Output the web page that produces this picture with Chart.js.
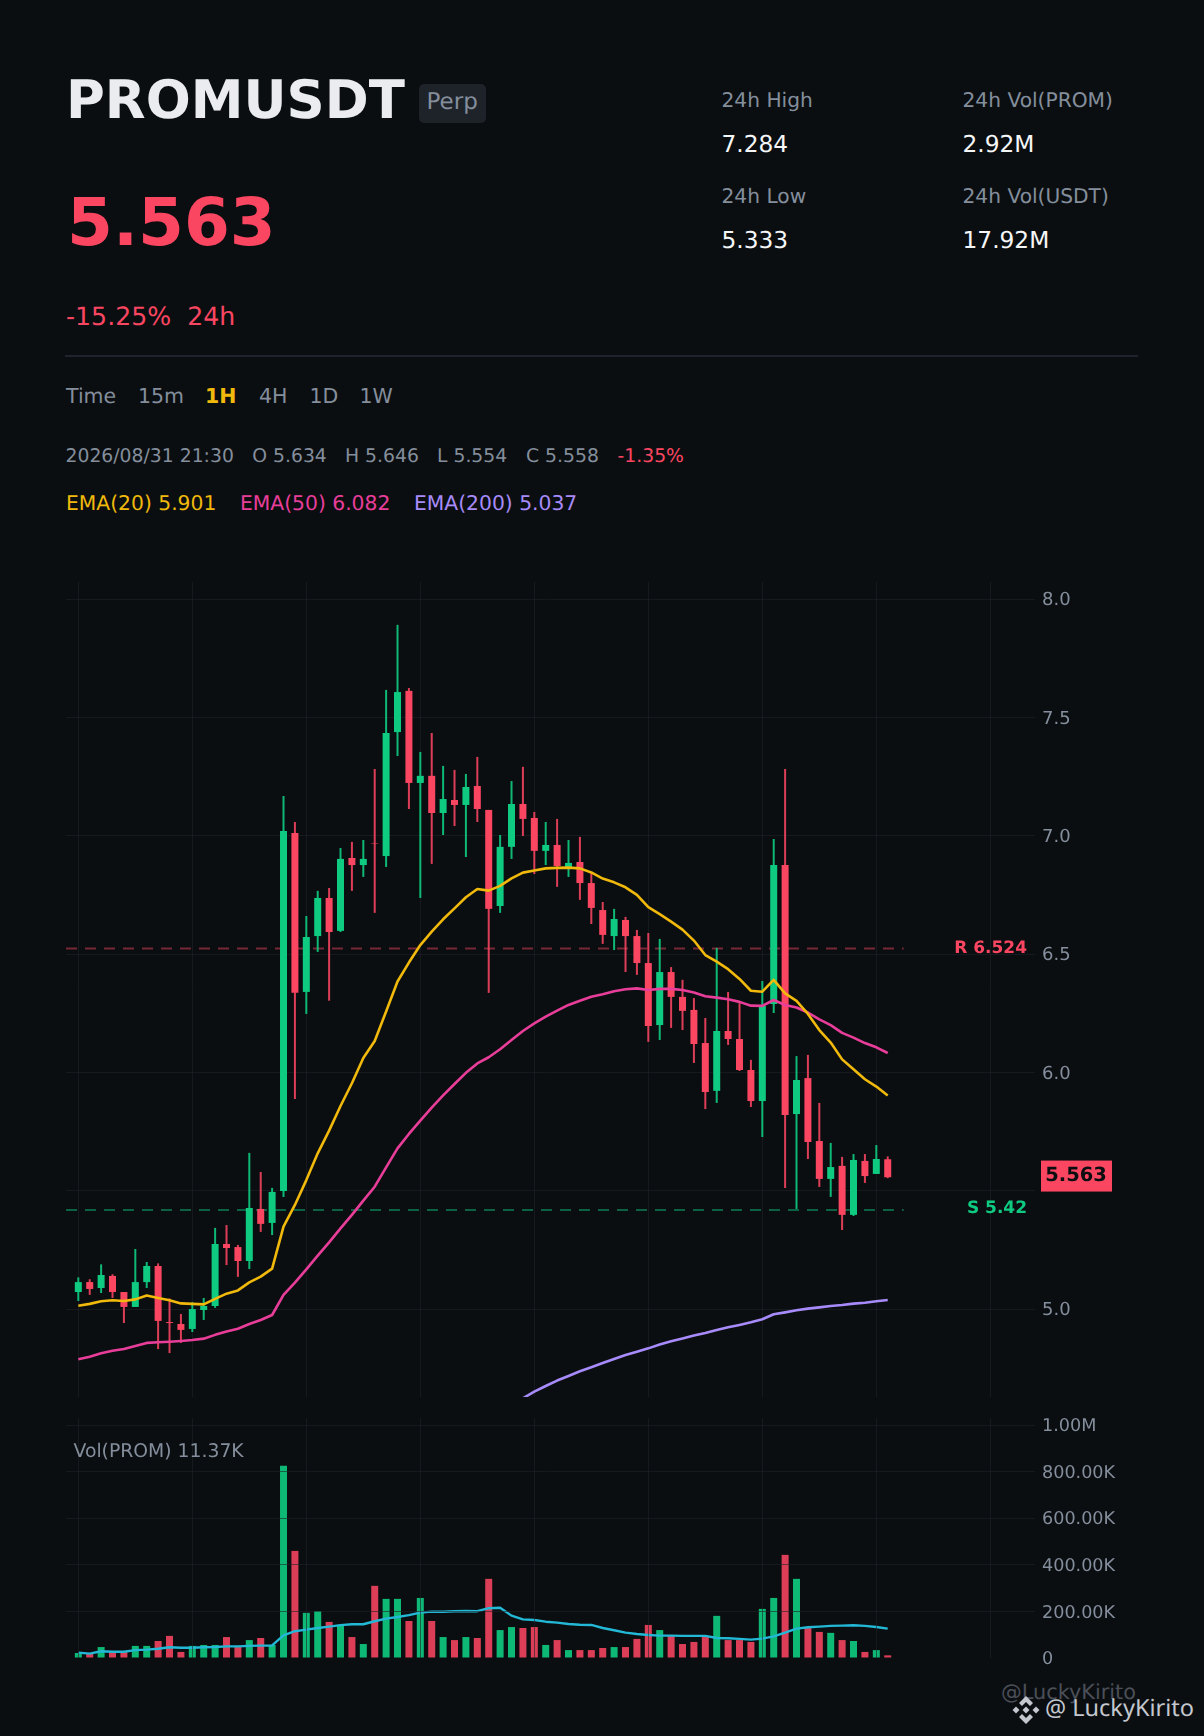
<!DOCTYPE html>
<html>
<head>
<meta charset="utf-8">
<title>PROMUSDT</title>
<script src="https://cdn.jsdelivr.net/npm/chart.js@4"></script>
<style>
  html, body { margin: 0; padding: 0; background: #0b0e11; }
  body { position: relative; width: 1204px; height: 1736px; overflow: hidden; font-family: "DejaVu Sans", sans-serif; text-rendering: geometricPrecision; }
  canvas { position: absolute; left: 0; }
  .t { position: absolute; line-height: 1; white-space: pre; color: #848e9c; }
  .lbl { font-size: 20.2px; }
  .val { font-size: 23.3px; color: #f5f6f7; }
  .ohlc { font-size: 18.8px; top: 447.6px; }
  .ema { font-size: 20.3px; top: 492.7px; }
  .tf { font-size: 20.5px; top: 385.8px; }
</style>
</head>
<body>

<canvas id="graficaPrecio" style="top:570px"></canvas>
<canvas id="graficaVolumen" style="top:1410px"></canvas>

<div class="t" style="left:66px;top:73.5px;font-size:53px;font-weight:bold;color:#eaecef">PROMUSDT</div>
<div style="position:absolute;left:419.3px;top:84.3px;width:66.4px;height:38.4px;background:#1e2329;border-radius:5px"></div>
<div class="t" style="left:426.5px;top:91px;font-size:23px">Perp</div>
<div class="t" style="left:67px;top:190.2px;font-size:66px;font-weight:bold;color:#fb4661">5.563</div>
<div class="t" style="left:66px;top:303.9px;font-size:25.2px;color:#fb4661">-15.25%  24h</div>

<div class="t lbl" style="left:721.5px;top:90px">24h High</div>
<div class="t val" style="left:721.5px;top:133.4px">7.284</div>
<div class="t lbl" style="left:721.5px;top:185.6px">24h Low</div>
<div class="t val" style="left:721.5px;top:229px">5.333</div>
<div class="t lbl" style="left:962.5px;top:90px">24h Vol(PROM)</div>
<div class="t val" style="left:962.5px;top:133.4px">2.92M</div>
<div class="t lbl" style="left:962.5px;top:185.6px">24h Vol(USDT)</div>
<div class="t val" style="left:962.5px;top:229px">17.92M</div>

<div style="position:absolute;left:65px;top:355px;width:1073px;height:2px;background:#1e232d"></div>

<div class="t tf" style="left:66px">Time</div>
<div class="t tf" style="left:138px">15m</div>
<div class="t tf" style="left:205px;font-weight:bold;color:#f0b90b">1H</div>
<div class="t tf" style="left:259px">4H</div>
<div class="t tf" style="left:309.5px">1D</div>
<div class="t tf" style="left:359.5px">1W</div>

<div class="t ohlc" style="left:65.5px">2026/08/31 21:30</div>
<div class="t ohlc" style="left:252.3px">O 5.634</div>
<div class="t ohlc" style="left:345px">H 5.646</div>
<div class="t ohlc" style="left:437px">L 5.554</div>
<div class="t ohlc" style="left:526px">C 5.558</div>
<div class="t ohlc" style="left:617.5px;color:#fb4661">-1.35%</div>

<div class="t ema" style="left:66px;color:#f0b90b">EMA(20) 5.901</div>
<div class="t ema" style="left:240px;color:#e83e9a">EMA(50) 6.082</div>
<div class="t ema" style="left:414px;color:#a78bfa">EMA(200) 5.037</div>

<div class="t" style="left:73.5px;top:1442.5px;font-size:18.8px">Vol(PROM) 11.37K</div>

<div class="t" style="left:1001px;top:1681.6px;font-size:20.8px;color:#4a4f58">@LuckyKirito</div>
<svg style="position:absolute;left:1011px;top:1695px" width="30" height="30" viewBox="0 0 30 30">
  <g fill="#c3c7ce">
    <polygon points="15,11.5 18.5,15 15,18.5 11.5,15"/>
    <polygon points="15,1 22,8 19,11 15,7 11,11 8,8"/>
    <polygon points="15,29 22,22 19,19 15,23 11,19 8,22"/>
    <polygon points="5,11.5 8.5,15 5,18.5 1.5,15"/>
    <polygon points="25,11.5 28.5,15 25,18.5 21.5,15"/>
  </g>
</svg>
<div class="t" style="left:1045px;top:1696.4px;font-size:23.5px;font-family:'Noto Sans';color:#c3c7ce">@ LuckyKirito</div>

<script>
// Valores, una vela por hora
const opens = [5.073,5.115,5.090,5.141,5.073,5.010,5.115,5.183,4.946,4.938,
  4.917,4.997,5.014,5.276,5.263,5.204,5.424,5.365,5.500,7.013,
  6.341,6.577,6.738,6.599,6.907,6.877,6.970,6.915,7.439,7.613,
  7.224,7.254,7.097,7.152,7.131,7.211,7.110,6.704,6.954,7.135,
  7.076,6.937,6.962,6.865,6.890,6.801,6.687,6.577,6.645,6.577,
  6.463,6.201,6.425,6.320,6.265,6.125,5.923,6.176,6.142,6.011,
  5.880,6.290,6.877,5.825,5.977,5.711,5.551,5.606,5.399,5.627,
  5.572,5.634];
const closes = [5.115,5.086,5.145,5.073,5.010,5.115,5.183,4.951,4.942,4.913,
  5.001,5.014,5.276,5.259,5.204,5.428,5.361,5.496,7.021,6.337,
  6.573,6.738,6.594,6.903,6.877,6.903,6.968,7.435,7.608,7.224,
  7.254,7.097,7.156,7.131,7.207,7.114,6.692,6.954,7.135,7.072,
  6.937,6.962,6.873,6.886,6.801,6.696,6.582,6.649,6.577,6.463,
  6.197,6.425,6.320,6.261,6.121,5.918,6.176,6.142,6.011,5.880,
  6.282,6.877,5.821,5.969,5.707,5.551,5.601,5.399,5.631,5.563,
  5.635,5.558];
const highs = [5.135,5.127,5.190,5.148,5.073,5.255,5.200,5.194,5.046,4.980,
  5.030,5.048,5.344,5.356,5.272,5.661,5.580,5.513,7.169,7.059,
  6.662,6.768,6.780,6.949,6.975,6.983,7.283,7.617,7.892,7.625,
  7.355,7.435,7.296,7.279,7.262,7.334,7.110,7.004,7.232,7.292,
  7.101,7.059,7.072,6.983,6.996,6.848,6.721,6.692,6.658,6.603,
  6.590,6.565,6.446,6.392,6.315,6.231,6.527,6.341,6.294,6.054,
  6.387,6.987,7.283,6.070,6.075,5.872,5.703,5.644,5.656,5.656,
  5.694,5.646];
const lows = [5.035,5.061,5.069,5.048,4.942,5.010,5.090,4.832,4.815,4.858,
  4.904,4.955,5.006,5.187,5.137,5.170,5.327,5.314,5.475,5.889,
  6.248,6.510,6.304,6.594,6.768,6.827,6.675,6.869,7.338,7.114,
  6.738,6.882,7.004,7.042,6.911,7.059,6.337,6.675,6.903,7.000,
  6.839,6.877,6.785,6.827,6.730,6.628,6.544,6.518,6.425,6.413,
  6.130,6.138,6.189,6.180,6.041,5.846,5.872,6.117,6.007,5.855,
  5.728,6.252,5.513,5.424,5.635,5.517,5.475,5.335,5.394,5.534,
  5.572,5.554];

const ema20 = [5.015,5.023,5.034,5.038,5.035,5.042,5.058,5.048,5.038,5.025,
  5.023,5.021,5.044,5.066,5.080,5.114,5.138,5.172,5.349,5.441,
  5.546,5.659,5.755,5.859,5.955,6.062,6.134,6.258,6.385,6.465,
  6.539,6.596,6.648,6.694,6.741,6.776,6.769,6.789,6.821,6.845,
  6.854,6.863,6.865,6.866,6.863,6.846,6.820,6.804,6.783,6.751,
  6.699,6.670,6.638,6.604,6.558,6.497,6.469,6.437,6.396,6.346,
  6.342,6.392,6.335,6.303,6.248,6.180,6.127,6.056,6.014,5.972,
  5.941,5.903];
const ema50 = [4.789,4.800,4.814,4.825,4.832,4.845,4.858,4.861,4.863,4.866,
  4.870,4.876,4.892,4.906,4.918,4.938,4.955,4.976,5.061,5.113,
  5.169,5.227,5.283,5.342,5.399,5.459,5.518,5.600,5.680,5.741,
  5.797,5.852,5.904,5.952,5.999,6.039,6.065,6.099,6.138,6.176,
  6.208,6.237,6.262,6.286,6.304,6.321,6.331,6.344,6.352,6.356,
  6.349,6.354,6.354,6.349,6.339,6.323,6.317,6.310,6.299,6.283,
  6.282,6.307,6.286,6.275,6.254,6.225,6.201,6.168,6.148,6.125,
  6.107,6.083];
// La EMA200 queda por debajo del panel en las primeras velas
const ema200 = [null,null,null,null,null,null,null,null,null,null,
  null,null,null,null,null,null,null,null,null,null,
  null,null,null,null,null,null,null,null,null,null,
  null,null,null,null,null,null,null,null,null,4.624,
  4.652,4.676,4.699,4.718,4.738,4.755,4.773,4.790,4.807,4.821,
  4.835,4.851,4.865,4.877,4.889,4.900,4.913,4.924,4.934,4.945,
  4.958,4.979,4.987,4.996,5.003,5.008,5.014,5.018,5.024,5.028,
  5.034,5.039];

// Volumen en miles de PROM
const volumes = [21.5,17,47,26,26,52,52,73,95,26,
  52,56,56,90,47,77,86,56,826,460,
  194,202,155,142,90,60,310,254,254,159,
  258,159,90,77,90,86,340,120,133,129,
  133,56,77,34,34,34,43,47,47,82,
  142,120,95,60,69,90,181,77,77,69,
  211,258,443,340,129,112,108,77,73,26,
  34,11.37];
const volumeMa = [23,19,29,27,27,34,36,40,46,44,
  44,46,47,50,50,52,53,54,97,115,
  122,129,135,141,145,145,158,169,176,184,
  195,199,199,201,202,201,214,216,182,166,
  163,156,152,146,143,142,129,119,109,103,
  99,96,96,95,95,95,86,85,82,79,
  83,93,109,126,132,135,138,139,141,138,
  133,126];

const priceTicks = [5, 5.5, 6, 6.5, 7, 7.5, 8];
const volumeTicks = [0, 200000, 400000, 600000, 800000, 1000000];
const gridCandles = [0, 10, 20, 30, 40, 50, 60, 70, 80];
const resistance = 6.524;
const support = 5.42;
const lastPrice = 5.563;
const levelSpan = [-1.08, 72.4];

const VERDE = "#0ecb81";
const ROJO = "#fb4661";
const VERDE_SUAVE = "rgba(14,203,129,0.9)";
const ROJO_SUAVE = "rgba(251,70,97,0.88)";
const GRID = "rgba(30,35,41,0.6)";
const GRIS = "#848e9c";
const FUENTE = "'DejaVu Sans'";

const sube = closes.map((c, i) => c >= opens[i]);

Chart.register({
  id: "textoPreciso",
  beforeDraw(chart) { chart.ctx.textRendering = "geometricPrecision"; }
});

function escalaX() {
  return {
    type: "linear",
    min: -1.08,
    max: 83.92,
    offset: false,
    grid: { color: GRID, lineWidth: 1, drawTicks: false, offset: false },
    border: { display: false },
    ticks: { display: false },
    afterBuildTicks: s => { s.ticks = gridCandles.map(v => ({ value: v })); },
    afterFit: s => { s.height = 0; s.paddingLeft = 0; s.paddingRight = 0; }
  };
}

function ajusteY(s) {
  s.width = 169;
  s.paddingTop = 0;
  s.paddingBottom = 0;
}

function linea(serie, color, ancho) {
  return {
    type: "line",
    data: serie.map((v, i) => ({ x: i, y: v })),
    borderColor: color,
    borderWidth: ancho,
    pointRadius: 0,
    tension: 0,
    borderJoinStyle: "round",
    order: 0
  };
}

function nivel(valor, color) {
  return {
    type: "line",
    data: levelSpan.map(x => ({ x: x, y: valor })),
    borderColor: color,
    borderWidth: 2,
    borderDash: [11, 8],
    pointRadius: 0,
    order: 3
  };
}

// Etiquetas R / S y precio actual
const etiquetasPrecio = {
  id: "etiquetasPrecio",
  afterDatasetsDraw(chart) {
    const ctx = chart.ctx;
    const y = chart.scales.y;
    ctx.save();
    ctx.textBaseline = "middle";
    ctx.textAlign = "right";
    ctx.font = "bold 17px " + FUENTE;
    ctx.fillStyle = ROJO;
    ctx.fillText("R " + resistance, 1027, y.getPixelForValue(resistance) - 0.5);
    ctx.fillStyle = VERDE;
    ctx.fillText("S " + support, 1027, y.getPixelForValue(support) - 1);

    const yp = y.getPixelForValue(lastPrice);
    ctx.fillStyle = ROJO;
    ctx.fillRect(1041, yp - 15.5, 71, 31);
    ctx.fillStyle = "#0b0e11";
    ctx.textAlign = "center";
    ctx.font = "bold 19.5px " + FUENTE;
    ctx.fillText(String(lastPrice), 1076, yp);
    ctx.restore();
  }
};

const canvasPrecio = document.getElementById("graficaPrecio");
canvasPrecio.width = 1204;
canvasPrecio.height = 840;
canvasPrecio.style.width = "1204px";
canvasPrecio.style.height = "840px";

new Chart(canvasPrecio.getContext("2d"), {
  type: "bar",
  data: {
    datasets: [
      linea(ema20, "#f0b90b", 2.6),
      linea(ema50, "#e83e9a", 2.6),
      linea(ema200, "#a78bfa", 2.6),
      {
        // Cuerpos
        data: opens.map((o, i) => ({ x: i, y: [o, closes[i]] })),
        backgroundColor: sube.map(s => s ? VERDE : ROJO),
        maxBarThickness: 7,
        grouped: false,
        order: 1
      },
      {
        // Mechas
        data: lows.map((l, i) => ({ x: i, y: [l, highs[i]] })),
        backgroundColor: sube.map(s => s ? VERDE_SUAVE : ROJO_SUAVE),
        maxBarThickness: 2,
        grouped: false,
        order: 2
      },
      nivel(resistance, "rgba(251,70,97,0.45)"),
      nivel(support, "rgba(14,203,129,0.45)")
    ]
  },
  options: {
    responsive: false,
    animation: false,
    layout: { padding: { left: 66, top: 12, bottom: 13, right: 0 } },
    plugins: { legend: { display: false }, tooltip: { enabled: false } },
    scales: {
      x: escalaX(),
      y: {
        position: "right",
        min: 4.6295,
        max: 8.073,
        grid: { color: GRID, lineWidth: 1, drawTicks: false },
        border: { display: false },
        afterBuildTicks: s => { s.ticks = priceTicks.map(v => ({ value: v })); },
        afterFit: ajusteY,
        ticks: {
          color: GRIS,
          padding: 7,
          labelOffset: 1.5,
          font: { family: FUENTE, size: 18 },
          // El 5.5 queda tapado por la etiqueta del precio
          callback: v => v === 5.5 ? "" : v.toFixed(1)
        }
      }
    }
  },
  plugins: [etiquetasPrecio]
});

const canvasVolumen = document.getElementById("graficaVolumen");
canvasVolumen.width = 1204;
canvasVolumen.height = 260;
canvasVolumen.style.width = "1204px";
canvasVolumen.style.height = "260px";

const xVol = escalaX();
xVol.grid.z = 1;

new Chart(canvasVolumen.getContext("2d"), {
  type: "bar",
  data: {
    datasets: [
      linea(volumeMa.map(v => v * 1000), "#22b8d6", 2.4),
      {
        data: volumes.map((v, i) => ({ x: i, y: v * 1000 })),
        backgroundColor: sube.map(s => s ? VERDE_SUAVE : ROJO_SUAVE),
        maxBarThickness: 7,
        grouped: false,
        order: 1
      }
    ]
  },
  options: {
    responsive: false,
    animation: false,
    layout: { padding: { left: 66, top: 8, bottom: 12, right: 0 } },
    plugins: { legend: { display: false }, tooltip: { enabled: false } },
    scales: {
      x: xVol,
      y: {
        position: "right",
        min: 0,
        max: 1031000,
        grid: {
          z: 1,
          lineWidth: 1,
          drawTicks: false,
          color: c => c.tick && c.tick.value === 0 ? "transparent" : GRID
        },
        border: { display: false },
        afterBuildTicks: s => { s.ticks = volumeTicks.map(v => ({ value: v })); },
        afterFit: ajusteY,
        ticks: {
          color: GRIS,
          padding: 7,
          labelOffset: 1.5,
          font: { family: FUENTE, size: 17.6 },
          callback: v => v === 0 ? "0" : v >= 1000000 ? (v / 1000000).toFixed(2) + "M" : (v / 1000).toFixed(2) + "K"
        }
      }
    }
  }
});
</script>
</body>
</html>
